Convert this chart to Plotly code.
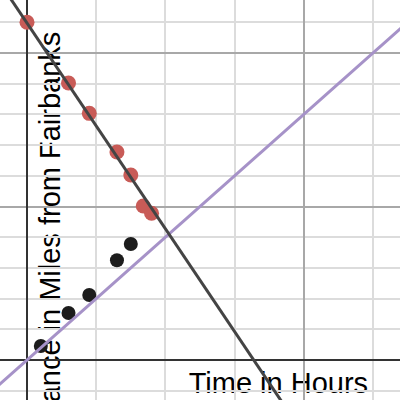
import plotly.graph_objects as go

# Data (time in hours, distance in miles)
red_time = [0.0, 0.3, 0.45, 0.65, 0.75, 0.84, 0.9]
red_dist = [220, 180.5, 160.7, 135.5, 120.5, 100.3, 95.6]
black_time = [0.1, 0.3, 0.45, 0.65, 0.75]
black_dist = [9.1, 30.6, 42.3, 65.0, 75.6]

# Lines: y = slope * x + intercept
fit_slope = -134.0
fit_intercept = 219.5
purple_slope = 80.0
purple_intercept = 0.0

x_range = [-0.1951, 2.6951]
y_range = [-26.06, 234.53]

line_x = [x_range[0] - 0.1, x_range[1] + 0.1]

fig = go.Figure()
fig.add_trace(go.Scatter(x=red_time, y=red_dist, mode="markers",
                         marker=dict(size=15, color="#c85b57", line=dict(width=0)),
                         hoverinfo="skip"))
fig.add_trace(go.Scatter(x=black_time, y=black_dist, mode="markers",
                         marker=dict(size=14, color="#1c1c1c", line=dict(width=0)),
                         hoverinfo="skip"))
fig.add_trace(go.Scatter(x=line_x, y=[purple_slope * v + purple_intercept for v in line_x],
                         mode="lines", line=dict(color="#a692c8", width=3),
                         hoverinfo="skip"))
fig.add_trace(go.Scatter(x=line_x, y=[fit_slope * v + fit_intercept for v in line_x],
                         mode="lines", line=dict(color="#444444", width=3),
                         hoverinfo="skip"))

font = dict(family="Liberation Sans, Arial, sans-serif", size=29, color="black")

fig.add_shape(type="rect", xref="paper", yref="paper",
              x0=0.596, x1=0.796, y0=0.01, y1=0.09,
              line=dict(width=0), fillcolor="rgba(0,0,0,0)", layer="between",
              label=dict(text="Time in Hours", font=font, textangle=0,
                         textposition="middle center"))
fig.add_shape(type="rect", xref="paper", yref="paper",
              x0=0.0625, x1=0.1725, y0=-0.13, y1=0.92,
              line=dict(width=0), fillcolor="rgba(0,0,0,0)", layer="between",
              label=dict(text="Distance in Miles from Fairbanks", font=font, textangle=-90,
                         textposition="middle center"))

fig.update_layout(
    width=400, height=400,
    margin=dict(l=0, r=0, t=0, b=0),
    paper_bgcolor="white", plot_bgcolor="white",
    showlegend=False,
    hovermode=False,
    xaxis=dict(range=x_range, dtick=2, tick0=0, showticklabels=False, ticks="",
               showgrid=True, gridcolor="#a8a8a8", gridwidth=2,
               zeroline=True, zerolinecolor="#333333", zerolinewidth=2,
               minor=dict(dtick=0.5, tick0=0, showgrid=True, gridcolor="#dcdcdc", gridwidth=2),
               showline=False),
    yaxis=dict(range=y_range, dtick=100, tick0=0, showticklabels=False, ticks="",
               showgrid=True, gridcolor="#a8a8a8", gridwidth=2,
               zeroline=True, zerolinecolor="#333333", zerolinewidth=2,
               minor=dict(dtick=20, tick0=0, showgrid=True, gridcolor="#dcdcdc", gridwidth=2),
               showline=False),
)

fig.write_html("out.html", config={"displayModeBar": False},
               post_script="document.body.style.margin='0';")
